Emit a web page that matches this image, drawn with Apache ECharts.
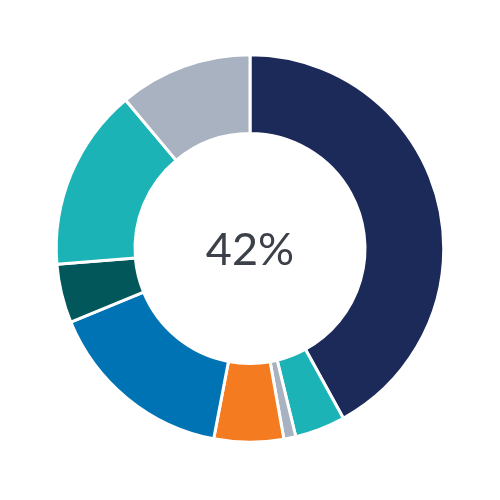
<!DOCTYPE html>
<html><head><meta charset="utf-8">
<script src="https://cdn.jsdelivr.net/npm/echarts@6/dist/echarts.min.js"></script>
<style>html,body{margin:0;padding:0;background:#fff}#c{width:500px;height:500px}</style>
</head><body><div id="c"></div>
<script>
const categories = ['A','B','C','D','E','F','G','H'];
const values = [42, 4.2, 1.0, 5.8, 15.8, 4.9, 15.2, 11.1];
const colors = ['#1c2a5a','#1bb3b5','#a9b2c1','#f47b20','#0073b4','#02575a','#1bb3b5','#a9b2c1'];
const centerLabel = '42%';
const chart = echarts.init(document.getElementById('c'));
chart.setOption({
  animation: false,
  title: { text: centerLabel, left: 'center', top: 'middle',
    textStyle: { fontFamily: 'Lato', fontSize: 45, fontWeight: 'normal', color: '#3c4048' } },
  series: [{
    type: 'pie', center: ['50%', '49.7%'], radius: ['46%', '77.5%'],
    startAngle: 90, clockwise: true, label: { show: false }, labelLine: { show: false },
    itemStyle: { borderColor: '#fff', borderWidth: 3 },
    emphasis: { disabled: true },
    data: categories.map((c, i) => ({ name: c, value: values[i], itemStyle: { color: colors[i] } }))
  }]
});
</script></body></html>
